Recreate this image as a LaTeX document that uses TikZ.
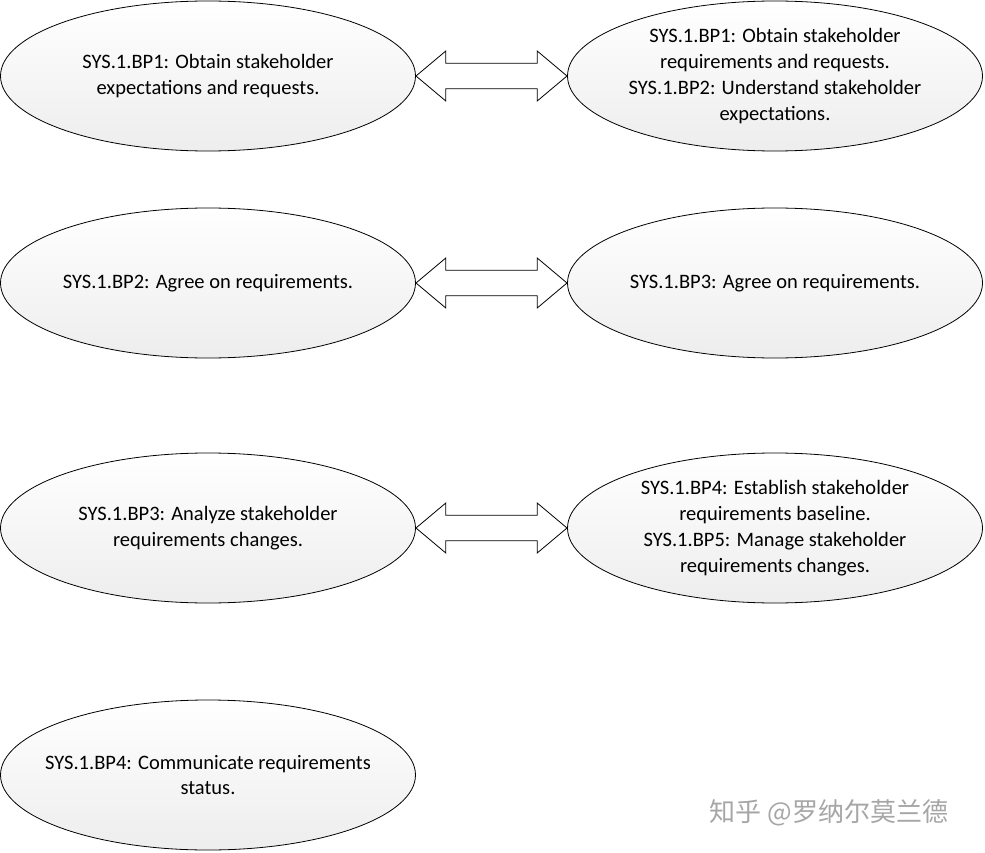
\documentclass[tikz,border=0pt]{standalone}
\usepackage{fontspec}
\setmainfont{Carlito}
\newfontfamily\cjk{Noto Sans CJK SC}
\usetikzlibrary{shapes.geometric,shapes.arrows}
\tikzset{
 ell/.style={ellipse,draw=black,line width=0.8pt,top color=white,bottom color=gray!14,minimum width=415pt,minimum height=150pt,inner sep=0pt},
 txt/.style={align=center,font=\fontsize{20.5}{25.8}\selectfont},
 darr/.style={double arrow,draw=black,line width=0.8pt,fill=white,minimum height=151pt,minimum width=50pt,inner sep=0pt,inner ysep=12pt,double arrow head extend=12pt,double arrow tip angle=80}
}
\begin{document}
\begin{tikzpicture}[x=1pt,y=-1pt]
\useasboundingbox (0,0) rectangle (985,853);
\node[ell] (l1) at (208,76) {};
\node[ell] (r1) at (775,76) {};
\node[ell] (l2) at (208,283) {};
\node[ell] (r2) at (775,283) {};
\node[ell] (l3) at (208,528) {};
\node[ell] (r3) at (775,528) {};
\node[ell] (l4) at (208,775) {};
\node[txt] (tl1) at (l1) {SYS.1.BP1: Obtain stakeholder\\expectations and requests.};
\node[txt] (tr1) at (r1) {SYS.1.BP1: Obtain stakeholder\\requirements and requests.\\SYS.1.BP2: Understand stakeholder\\expectations.};
\node[txt] (tl2) at (l2) {SYS.1.BP2: Agree on requirements.};
\node[txt] (tr2) at (r2) {SYS.1.BP3: Agree on requirements.};
\node[txt] (tl3) at (l3) {SYS.1.BP3: Analyze stakeholder\\requirements changes.};
\node[txt] (tr3) at (r3) {SYS.1.BP4: Establish stakeholder\\requirements baseline.\\SYS.1.BP5: Manage stakeholder\\requirements changes.};
\node[txt] (tl4) at (l4) {SYS.1.BP4: Communicate requirements\\status.};
\path (l1.east) -- (r1.west) node[midway,darr] (a1) {};
\path (l2.east) -- (r2.west) node[midway,darr] (a2) {};
\path (l3.east) -- (r3.west) node[midway,darr] (a3) {};
\node[text=gray!70,font=\cjk\fontsize{26}{30}\selectfont] (wm) at (829,813) {知乎 @罗纳尔莫兰德};
\end{tikzpicture}
\end{document}
